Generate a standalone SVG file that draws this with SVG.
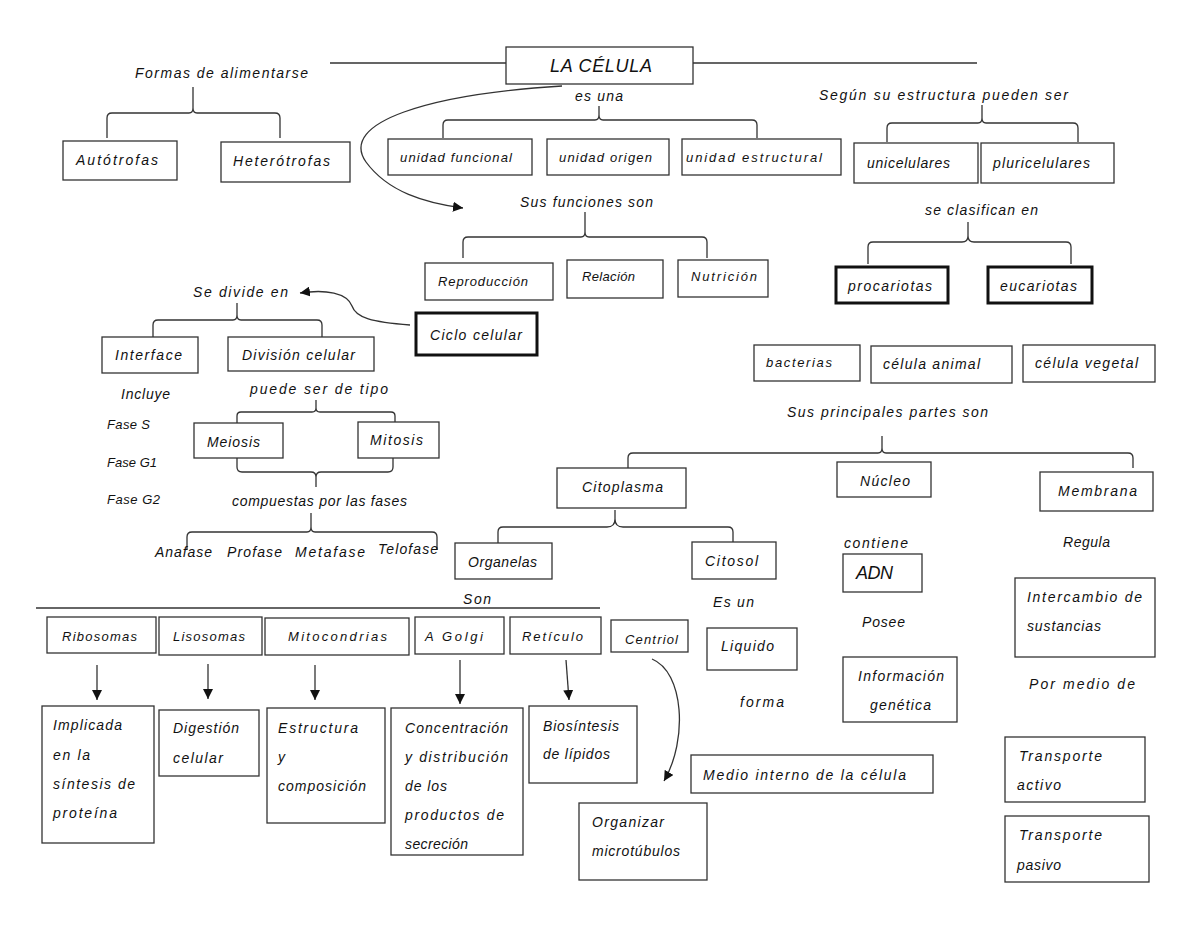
<svg xmlns="http://www.w3.org/2000/svg" width="1200" height="927" viewBox="0 0 1200 927">
<style>
.box{fill:#fff;stroke:#333;stroke-width:1.3}
.thick{fill:#fff;stroke:#111;stroke-width:3}
.ln{fill:none;stroke:#333;stroke-width:1.3}
text{font-family:"Liberation Sans",Arial,sans-serif;font-style:italic;font-size:14px;fill:#111}
.big{font-size:18px}
.sm{font-size:13px}
</style>
<defs>
<marker id="ah" viewBox="0 0 10 10" refX="10" refY="5" markerWidth="10" markerHeight="10" markerUnits="userSpaceOnUse" orient="auto">
<path d="M0,0 L10,5 L0,10 z" fill="#111"/>
</marker>
</defs>
<rect width="1200" height="927" fill="#fff"/>

<g id="connectors">
<path class="ln" d="M330 63 H506 M693 63 H977"/>
<path class="ln" d="M36 608 H600"/>
<path class="ln" d="M107 138 V118 Q107 113 112 113 H189 Q193 113 193 108 V87 M193 108 Q193 113 197 113 H275 Q280 113 280 118 V138"/>
<path class="ln" d="M443 138 V125 Q443 120 448 120 H595 Q599 120 599 115 V106 M599 115 Q599 120 603 120 H752 Q757 120 757 125 V138"/>
<path class="ln" d="M463 258 V242 Q463 237 468 237 H581 Q585 237 585 232 V212 M585 232 Q585 237 589 237 H702 Q707 237 707 242 V258"/>
<path class="ln" d="M887 142 V128 Q887 123 892 123 H978 Q982 123 982 118 V105 M982 118 Q982 123 986 123 H1073 Q1078 123 1078 128 V142"/>
<path class="ln" d="M868 264 V247 Q868 242 873 242 H962 Q968 242 968 236 V222 M968 236 Q968 242 974 242 H1066 Q1071 242 1071 247 V264"/>
<path class="ln" d="M153 337 V325 Q153 320 158 320 H233 Q237 320 237 315 V303 M237 315 Q237 320 241 320 H317 Q322 320 322 325 V337"/>
<path class="ln" d="M237 423 V416 Q237 412 241 412 H312 Q316 412 316 408 V400 M316 408 Q316 412 320 412 H391 Q395 412 395 416 V422"/>
<path class="ln" d="M237 458 V467 Q237 472 242 472 H311 Q316 472 316 477 V487 M316 477 Q316 472 321 472 H388 Q393 472 393 467 V458"/>
<path class="ln" d="M187 550 V537 Q187 532 192 532 H307 Q311 532 311 527 V513 M311 527 Q311 532 315 532 H432 Q437 532 437 537 V550"/>
<path class="ln" d="M628 468 V458 Q628 453 633 453 H878 Q882 453 882 448 V436 M882 448 Q882 453 886 453 H1128 Q1133 453 1133 458 V468"/>
<path class="ln" d="M498 543 V532 Q498 527 503 527 H607 Q615 527 615 519 V510 M615 519 Q615 527 623 527 H728 Q733 527 733 532 V543"/>
<path class="ln" d="M562 86 C430 94 338 122 366 162 C388 192 425 203 463 208" marker-end="url(#ah)"/>
<path class="ln" d="M410 325 C372 322 356 318 352 306 C347 293 326 289 300 293" marker-end="url(#ah)"/>
<path class="ln" d="M652 659 C684 672 688 740 664 781" marker-end="url(#ah)"/>
<path class="ln" d="M97 665 V700" marker-end="url(#ah)"/>
<path class="ln" d="M208 664 V699" marker-end="url(#ah)"/>
<path class="ln" d="M315 665 V700" marker-end="url(#ah)"/>
<path class="ln" d="M460 660 V704" marker-end="url(#ah)"/>
<path class="ln" d="M566 660 L569 700" marker-end="url(#ah)"/>
</g>

<g id="labels">
<text x="135" y="78" textLength="173">Formas de alimentarse</text>
<text x="575" y="101" textLength="48">es una</text>
<text x="520" y="207" textLength="133">Sus funciones son</text>
<text x="819" y="100" textLength="249">Según su estructura pueden ser</text>
<text x="925" y="215" textLength="113">se clasifican en</text>
<text x="193" y="297" textLength="95">Se divide en</text>
<text x="121" y="399" textLength="49">Incluye</text>
<text class="sm" x="107" y="429" textLength="43">Fase S</text>
<text class="sm" x="107" y="467" textLength="50">Fase G1</text>
<text class="sm" x="107" y="504" textLength="53">Fase G2</text>
<text x="250" y="394" textLength="138">puede ser de tipo</text>
<text x="232" y="506" textLength="175">compuestas por las fases</text>
<text x="155" y="557" textLength="57">Anafase</text>
<text x="227" y="557" textLength="55">Profase</text>
<text x="295" y="557" textLength="70">Metafase</text>
<text x="378" y="554" textLength="60">Telofase</text>
<text x="787" y="417" textLength="201">Sus principales partes son</text>
<text x="844" y="548" textLength="64">contiene</text>
<text x="1063" y="547" textLength="47">Regula</text>
<text x="862" y="627" textLength="43">Posee</text>
<text x="713" y="607" textLength="41">Es un</text>
<text x="740" y="707" textLength="44">forma</text>
<text x="1029" y="689" textLength="106">Por medio de</text>
<text x="463" y="604" textLength="28">Son</text>
</g>

<g id="n-celula"><rect class="box" x="506" y="47" width="187" height="37"/><text class="big" x="550" y="72" textLength="102">LA CÉLULA</text></g>
<g id="n-autotrofas"><rect class="box" x="63" y="141" width="114" height="39"/><text x="76" y="165" textLength="82">Autótrofas</text></g>
<g id="n-heterotrofas"><rect class="box" x="221" y="142" width="129" height="40"/><text x="233" y="166" textLength="97">Heterótrofas</text></g>
<g id="n-ufuncional"><rect class="box" x="388" y="139" width="144" height="36"/><text class="sm" x="400" y="162" textLength="112">unidad funcional</text></g>
<g id="n-uorigen"><rect class="box" x="547" y="139" width="122" height="36"/><text class="sm" x="559" y="162" textLength="93">unidad origen</text></g>
<g id="n-uestructural"><rect class="box" x="682" y="139" width="159" height="36"/><text class="sm" x="686" y="162" textLength="136">unidad estructural</text></g>
<g id="n-unicelulares"><rect class="box" x="854" y="143" width="124" height="40"/><text x="867" y="168" textLength="83">unicelulares</text></g>
<g id="n-pluricelulares"><rect class="box" x="981" y="143" width="133" height="40"/><text x="993" y="168" textLength="97">pluricelulares</text></g>
<g id="n-procariotas"><rect class="thick" x="836" y="267" width="112" height="36"/><text x="848" y="291" textLength="84">procariotas</text></g>
<g id="n-eucariotas"><rect class="thick" x="988" y="267" width="104" height="36"/><text x="1000" y="291" textLength="77">eucariotas</text></g>
<g id="n-reproduccion"><rect class="box" x="425" y="263" width="128" height="37"/><text class="sm" x="438" y="286" textLength="90">Reproducción</text></g>
<g id="n-relacion"><rect class="box" x="567" y="260" width="96" height="38"/><text class="sm" x="582" y="281" textLength="53">Relación</text></g>
<g id="n-nutricion"><rect class="box" x="678" y="260" width="90" height="37"/><text class="sm" x="691" y="281" textLength="66">Nutrición</text></g>
<g id="n-ciclo"><rect class="thick" x="416" y="313" width="121" height="42"/><text x="430" y="340" textLength="92">Ciclo celular</text></g>
<g id="n-interface"><rect class="box" x="102" y="337" width="96" height="36"/><text x="115" y="360" textLength="67">Interface</text></g>
<g id="n-division"><rect class="box" x="228" y="337" width="146" height="34"/><text x="242" y="360" textLength="113">División celular</text></g>
<g id="n-meiosis"><rect class="box" x="194" y="423" width="89" height="35"/><text x="207" y="447" textLength="53">Meiosis</text></g>
<g id="n-mitosis"><rect class="box" x="358" y="422" width="81" height="36"/><text x="370" y="445" textLength="53">Mitosis</text></g>
<g id="n-bacterias"><rect class="box" x="754" y="345" width="106" height="36"/><text class="sm" x="766" y="367" textLength="66">bacterias</text></g>
<g id="n-canimal"><rect class="box" x="871" y="346" width="141" height="37"/><text x="883" y="369" textLength="97">célula animal</text></g>
<g id="n-cvegetal"><rect class="box" x="1023" y="345" width="132" height="37"/><text x="1035" y="368" textLength="103">célula vegetal</text></g>
<g id="n-citoplasma"><rect class="box" x="557" y="468" width="129" height="40"/><text x="582" y="492" textLength="81">Citoplasma</text></g>
<g id="n-nucleo"><rect class="box" x="837" y="462" width="94" height="35"/><text x="860" y="486" textLength="50">Núcleo</text></g>
<g id="n-membrana"><rect class="box" x="1040" y="472" width="113" height="39"/><text x="1058" y="496" textLength="79">Membrana</text></g>
<g id="n-organelas"><rect class="box" x="455" y="543" width="97" height="36"/><text x="468" y="567" textLength="69">Organelas</text></g>
<g id="n-citosol"><rect class="box" x="692" y="542" width="84" height="37"/><text x="705" y="566" textLength="53">Citosol</text></g>
<g id="n-adn"><rect class="box" x="843" y="554" width="79" height="38"/><text class="big" x="856" y="579" textLength="37">ADN</text></g>
<g id="n-intercambio"><rect class="box" x="1015" y="578" width="140" height="79"/><text x="1027" y="602" textLength="115">Intercambio de</text><text x="1027" y="631" textLength="74">sustancias</text></g>
<g id="n-liquido"><rect class="box" x="707" y="628" width="90" height="42"/><text x="721" y="651" textLength="53">Liquido</text></g>
<g id="n-informacion"><rect class="box" x="843" y="657" width="114" height="65"/><text x="858" y="681" textLength="86">Información</text><text x="870" y="710" textLength="61">genética</text></g>
<g id="n-medio"><rect class="box" x="691" y="755" width="242" height="38"/><text x="703" y="780" textLength="203">Medio interno de la célula</text></g>
<g id="n-tactivo"><rect class="box" x="1005" y="737" width="140" height="65"/><text x="1019" y="761" textLength="83">Transporte</text><text x="1017" y="790" textLength="44">activo</text></g>
<g id="n-tpasivo"><rect class="box" x="1005" y="816" width="144" height="66"/><text x="1019" y="840" textLength="83">Transporte</text><text x="1017" y="870" textLength="44">pasivo</text></g>
<g id="n-ribosomas"><rect class="box" x="47" y="617" width="109" height="36"/><text class="sm" x="62" y="641" textLength="75">Ribosomas</text></g>
<g id="n-lisosomas"><rect class="box" x="159" y="617" width="103" height="38"/><text class="sm" x="173" y="641" textLength="72">Lisosomas</text></g>
<g id="n-mitocondrias"><rect class="box" x="265" y="618" width="144" height="37"/><text class="sm" x="288" y="641" textLength="99">Mitocondrias</text></g>
<g id="n-golgi"><rect class="box" x="415" y="617" width="89" height="37"/><text class="sm" x="425" y="641" textLength="58">A Golgi</text></g>
<g id="n-reticulo"><rect class="box" x="510" y="617" width="91" height="37"/><text class="sm" x="522" y="641" textLength="61">Retículo</text></g>
<g id="n-centriol"><rect class="box" x="611" y="620" width="77" height="32"/><text class="sm" x="625" y="644" textLength="53">Centriol</text></g>
<g id="n-implicada"><rect class="box" x="42" y="706" width="112" height="137"/><text x="53" y="730" textLength="69">Implicada</text><text x="53" y="760" textLength="37">en la</text><text x="53" y="789" textLength="82">síntesis de</text><text x="53" y="818" textLength="64">proteína</text></g>
<g id="n-digestion"><rect class="box" x="159" y="710" width="100" height="66"/><text x="173" y="733" textLength="66">Digestión</text><text x="173" y="763" textLength="50">celular</text></g>
<g id="n-estructura"><rect class="box" x="267" y="708" width="118" height="115"/><text x="278" y="733" textLength="80">Estructura</text><text x="278" y="762" textLength="8">y</text><text x="278" y="791" textLength="88">composición</text></g>
<g id="n-concentracion"><rect class="box" x="391" y="708" width="132" height="147"/><text x="405" y="733" textLength="103">Concentración</text><text x="405" y="762" textLength="103">y distribución</text><text x="405" y="791" textLength="42">de los</text><text x="405" y="820" textLength="99">productos de</text><text x="405" y="849" textLength="63">secreción</text></g>
<g id="n-biosintesis"><rect class="box" x="529" y="706" width="108" height="77"/><text x="543" y="731" textLength="76">Biosíntesis</text><text x="543" y="759" textLength="67">de lípidos</text></g>
<g id="n-organizar"><rect class="box" x="579" y="803" width="128" height="77"/><text x="592" y="827" textLength="72">Organizar</text><text x="592" y="856" textLength="88">microtúbulos</text></g>
</svg>
